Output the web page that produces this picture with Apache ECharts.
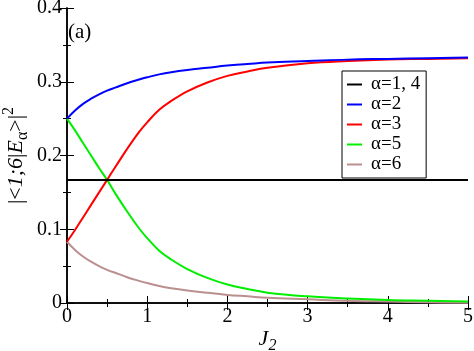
<!DOCTYPE html>
<html>
<head>
<meta charset="utf-8">
<script src="https://cdn.jsdelivr.net/npm/echarts@6/dist/echarts.min.js"></script>
<style>
  html, body { margin: 0; padding: 0; background: #fff; }
  #chart { width: 474px; height: 351px; }
</style>
</head>
<body>
<div id="chart"></div>
<script>
// J2 sample points
const j2 = [0, 0.1, 0.2, 0.3, 0.4, 0.5, 0.6, 0.75, 0.9, 1, 1.15, 1.3, 1.5, 1.75, 2, 2.25, 2.5, 3, 3.5, 4, 4.5, 5];

// |<1;6|E_alpha>|^2
const alpha14 = [0.1667, 0.1667, 0.1667, 0.1667, 0.1667, 0.1667, 0.1667, 0.1667, 0.1667, 0.1667, 0.1667,
  0.1667, 0.1667, 0.1667, 0.1667, 0.1667, 0.1667, 0.1667, 0.1667, 0.1667, 0.1667, 0.1667];
const alpha2 = [0.25, 0.261, 0.270, 0.277, 0.283, 0.288, 0.292, 0.298, 0.303, 0.306, 0.310,
  0.313, 0.316, 0.319, 0.322, 0.324, 0.326, 0.328, 0.330, 0.331, 0.332, 0.333];
const alpha3 = [0.083, 0.099, 0.116, 0.133, 0.150, 0.167, 0.184, 0.209, 0.232, 0.245, 0.262,
  0.274, 0.287, 0.299, 0.308, 0.314, 0.319, 0.325, 0.328, 0.330, 0.331, 0.332];
const alpha5 = [0.25, 0.234, 0.217, 0.200, 0.183, 0.167, 0.149, 0.124, 0.101, 0.088, 0.071,
  0.059, 0.046, 0.034, 0.025, 0.019, 0.014, 0.009, 0.006, 0.004, 0.003, 0.002];
const alpha6 = [0.083, 0.072, 0.063, 0.056, 0.050, 0.045, 0.041, 0.035, 0.030, 0.027, 0.023,
  0.020, 0.017, 0.014, 0.011, 0.009, 0.007, 0.005, 0.003, 0.002, 0.001, 0.0005];

const seriesNames = ['α=1, 4', 'α=2', 'α=3', 'α=5', 'α=6'];
const seriesColors = ['#000000', '#0000ff', '#ff0000', '#00ee00', '#bc8f8f'];
const seriesData = [alpha14, alpha2, alpha3, alpha5, alpha6];

const serif = '"Liberation Serif", "DejaVu Serif", serif';

const chart = echarts.init(document.getElementById('chart'));

const tickStyle = { lineStyle: { color: '#000', width: 1 } };

const baseX = {
  type: 'value', min: 0, max: 5, interval: 1,
  axisLine: { show: true, lineStyle: { color: '#000', width: 1.5 } },
  axisTick: { inside: true, length: 7, ...tickStyle },
  minorTick: { show: true, splitNumber: 2, length: 4, ...tickStyle },
  splitLine: { show: false }
};
const baseY = {
  type: 'value', min: 0, max: 0.4, interval: 0.1,
  axisLine: { show: true, lineStyle: { color: '#000', width: 1.5 } },
  axisTick: { inside: true, length: 7, ...tickStyle },
  minorTick: { show: true, splitNumber: 2, length: 4, ...tickStyle },
  splitLine: { show: false }
};

chart.setOption({
  animation: false,
  grid: { left: 67, right: 6, top: 8, bottom: 48, outerBoundsMode: 'none' },
  legend: {
    data: seriesNames,
    orient: 'vertical',
    left: 342, top: 71,
    itemWidth: 15, itemHeight: 2, itemGap: 1,
    padding: [4, 6, 4, 5],
    borderColor: '#000', borderWidth: 1,
    icon: 'rect',
    textStyle: { fontFamily: serif, fontSize: 19, lineHeight: 16, color: '#000', padding: [0, 0, 0, 4] }
  },
  xAxis: [
    {
      ...baseX, position: 'bottom',
      axisLabel: { fontFamily: serif, fontSize: 20, color: '#000', margin: 4 },
      name: '{i|J}{sub|2}', nameLocation: 'middle', nameGap: 21, nameMoveOverlap: false,
      nameTextStyle: {
        rich: {
          i: { fontFamily: serif, fontStyle: 'italic', fontSize: 22, color: '#000' },
          sub: { fontFamily: serif, fontStyle: 'italic', fontSize: 16, color: '#000', padding: [14, 0, 0, 0] }
        }
      }
    },
    { ...baseX, position: 'top', axisLabel: { show: false } }
  ],
  yAxis: [
    {
      ...baseY, position: 'left',
      axisLabel: { fontFamily: serif, fontSize: 20, color: '#000', margin: 5 },
      name: '{n||<}{i|1;6}{n||}{i|E}{sub|α}{n|>|}{sup|2}', nameLocation: 'middle', nameGap: 36, nameMoveOverlap: false,
      nameTextStyle: {
        rich: {
          n: { fontFamily: serif, fontSize: 22, color: '#000' },
          i: { fontFamily: serif, fontStyle: 'italic', fontSize: 22, color: '#000' },
          sub: { fontFamily: serif, fontSize: 16, color: '#000', padding: [14, 0, 0, 0] },
          sup: { fontFamily: serif, fontSize: 16, color: '#000', padding: [0, 0, 14, 0] }
        }
      }
    },
    { ...baseY, position: 'right', axisLabel: { show: false } }
  ],
  graphic: [
    { type: 'text', left: 68, top: 22, style: { text: '(a)', fontFamily: serif, fontSize: 21, fill: '#000' } }
  ],
  series: seriesNames.map((name, k) => ({
    name,
    type: 'line',
    data: j2.map((x, i) => [x, seriesData[k][i]]),
    smooth: 0.4,
    showSymbol: false,
    lineStyle: { color: seriesColors[k], width: 2 },
    itemStyle: { color: seriesColors[k] },
    z: 5 - k
  }))
});
</script>
</body>
</html>
